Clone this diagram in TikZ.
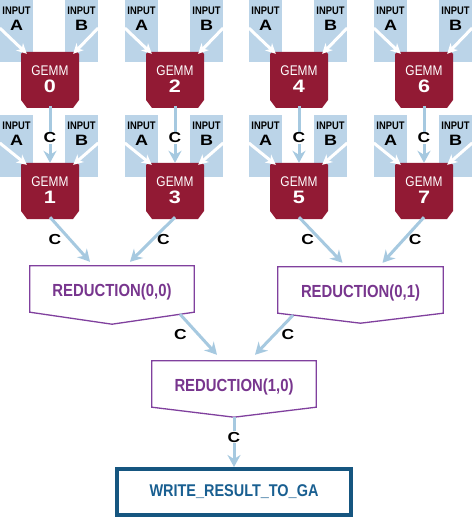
\documentclass[tikz,border=0pt]{standalone}
\usepackage{fontspec}
\setmainfont{Liberation Sans}
\newfontfamily\cond[FakeStretch=0.85]{Liberation Sans}
\newfontfamily\widef[FakeStretch=1.2]{Liberation Sans}
\usetikzlibrary{arrows.meta,calc}
\definecolor{gemmred}{RGB}{146,26,52}
\definecolor{inblue}{RGB}{187,212,232}
\definecolor{linkblue}{RGB}{166,201,224}
\definecolor{redline}{RGB}{128,64,158}
\definecolor{redtext}{RGB}{120,54,142}
\definecolor{wline}{RGB}{22,86,128}
\definecolor{wtext}{RGB}{25,95,145}
\newcommand\lowertxt[1]{\raisebox{-3pt}[\height][\depth]{#1}}
\tikzset{
  inbox/.style={fill=inblue,minimum width=33pt,minimum height=62pt,inner sep=0pt},
  intop/.style={inner sep=0pt,font=\cond\bfseries\fontsize{11}{11}\selectfont},
  inletter/.style={inner sep=0pt,font=\widef\bfseries\fontsize{15}{15}\selectfont},
  gemm/.style={minimum width=58pt,minimum height=56pt,inner sep=0pt,text=white,align=center,
    font=\cond\fontsize{14}{17}\selectfont},
  inarrow/.style={draw=white,line width=3pt,-{Stealth[length=10pt,width=10pt,inset=3pt]}},
  link/.style={draw=linkblue,line width=3pt,-{Stealth[length=12pt,width=13pt,inset=4pt]}},
  clab/.style={inner sep=1pt,font=\widef\bfseries\fontsize{14.5}{14.5}\selectfont,text=black},
  clabw/.style={clab,fill=white},
  redn/.style={minimum width=164pt,minimum height=46pt,inner sep=0pt,text=redtext,
    font=\cond\bfseries\fontsize{17.5}{17.5}\selectfont},
  redshape/.style={draw=redline,line width=1.3pt,line join=miter},
  wbox/.style={draw=wline,line width=4pt,minimum width=234pt,minimum height=46pt,inner sep=0pt,
    text=wtext,font=\cond\bfseries\fontsize{17}{17}\selectfont}
}
\newcommand\gemmunit[4]{% #1 index, #2 cx, #3 input top, #4 gemm top
  \node[inbox] (ia#1) at (#2-33.5,#3+31) {};
  \node[inbox] (ib#1) at (#2+31.5,#3+31) {};
  \node[intop] (iat#1) at (#2-33.5,#3+11) {INPUT};
  \node[inletter] (ial#1) at (#2-33.5,#3+25.5) {A};
  \node[intop] (ibt#1) at (#2+31.5,#3+11) {INPUT};
  \node[inletter] (ibl#1) at (#2+31.5,#3+25.5) {B};
  \fill[gemmred] (#2-29,#4+2) -- (#2-27,#4) -- (#2+27,#4) -- (#2+29,#4+2) -- (#2+29,#4+48)
     -- (#2+23,#4+56) -- (#2-23,#4+56) -- (#2-29,#4+48) -- cycle;
  \node[gemm] (g#1) at (#2,#4+27) {GEMM\\{\widef\bfseries\fontsize{18}{17}\selectfont #1}};
  \draw[inarrow] ([yshift=3pt]ia#1.west) -- ([xshift=6pt,yshift=-3pt]g#1.north west);
  \draw[inarrow] ([yshift=3pt]ib#1.east) -- ([xshift=-6pt,yshift=-3pt]g#1.north east);
}
\begin{document}
\begin{tikzpicture}[x=1pt,y=-1pt]
\useasboundingbox[fill=white] (0,0) rectangle (474,521);
% GEMM columns
\gemmunit{0}{50}{0}{52}
\gemmunit{2}{175}{0}{52}
\gemmunit{4}{299}{0}{52}
\gemmunit{6}{424}{0}{52}
\gemmunit{1}{50}{115}{163}
\gemmunit{3}{175}{115}{163}
\gemmunit{5}{299}{115}{163}
\gemmunit{7}{424}{115}{163}
% vertical C links
\draw[link] ([yshift=1pt]g0.south) -- ([yshift=-1pt]g1.north) node[clabw,pos=0.56] {C};
\draw[link] ([yshift=1pt]g2.south) -- ([yshift=-1pt]g3.north) node[clabw,pos=0.56] {C};
\draw[link] ([yshift=1pt]g4.south) -- ([yshift=-1pt]g5.north) node[clabw,pos=0.56] {C};
\draw[link] ([yshift=1pt]g6.south) -- ([yshift=-1pt]g7.north) node[clabw,pos=0.56] {C};
% reductions
\node[redn] (r00) at (112,289) {\lowertxt{REDUCTION(0,0)}};
\draw[redshape] (r00.north west) -- (r00.north east) -- (r00.south east)
  -- ([yshift=-12pt]r00.south) -- (r00.south west) -- cycle;
\node[redn,minimum width=165pt] (r01) at (360.5,290) {\lowertxt{REDUCTION(0,1)}};
\draw[redshape] (r01.north west) -- (r01.north east) -- (r01.south east)
  -- ([yshift=-10pt]r01.south) -- (r01.south west) -- cycle;
\node[redn] (r10) at (234,384) {\lowertxt{REDUCTION(1,0)}};
\draw[redshape] (r10.north west) -- (r10.north east) -- (r10.south east)
  -- ([yshift=-10pt]r10.south) -- (r10.south west) -- cycle;
% write box
\node[wbox] (w) at (234,492) {WRITE\_RESULT\_TO\_GA};
% links to reductions
\draw[link] ([yshift=1pt]g1.south) -- ([xshift=-22pt,yshift=4pt]r00.north) node[clab,pos=0.5,xshift=-15pt] {C};
\draw[link] ([yshift=1pt]g3.south) -- ([xshift=18pt,yshift=4pt]r00.north) node[clab,pos=0.5,xshift=11pt] {C};
\draw[link] ([yshift=1pt]g5.south) -- ([xshift=-18pt,yshift=4pt]r01.north) node[clab,pos=0.5,xshift=-13pt] {C};
\draw[link] ([yshift=1pt]g7.south) -- ([xshift=22pt,yshift=4pt]r01.north) node[clab,pos=0.5,xshift=12pt] {C};
\draw[link] ([xshift=68pt,yshift=-2pt]r00.south) -- ([xshift=-17pt,yshift=6pt]r10.north) node[clab,pos=0.5,xshift=-18pt] {C};
\draw[link] ([xshift=-67.5pt,yshift=-2pt]r01.south) -- ([xshift=21pt,yshift=6pt]r10.north) node[clab,pos=0.5,xshift=14pt] {C};
\draw[link] ([yshift=-10pt]r10.south) -- (w.north) node[clabw,pos=0.4] {C};
\end{tikzpicture}
\end{document}
